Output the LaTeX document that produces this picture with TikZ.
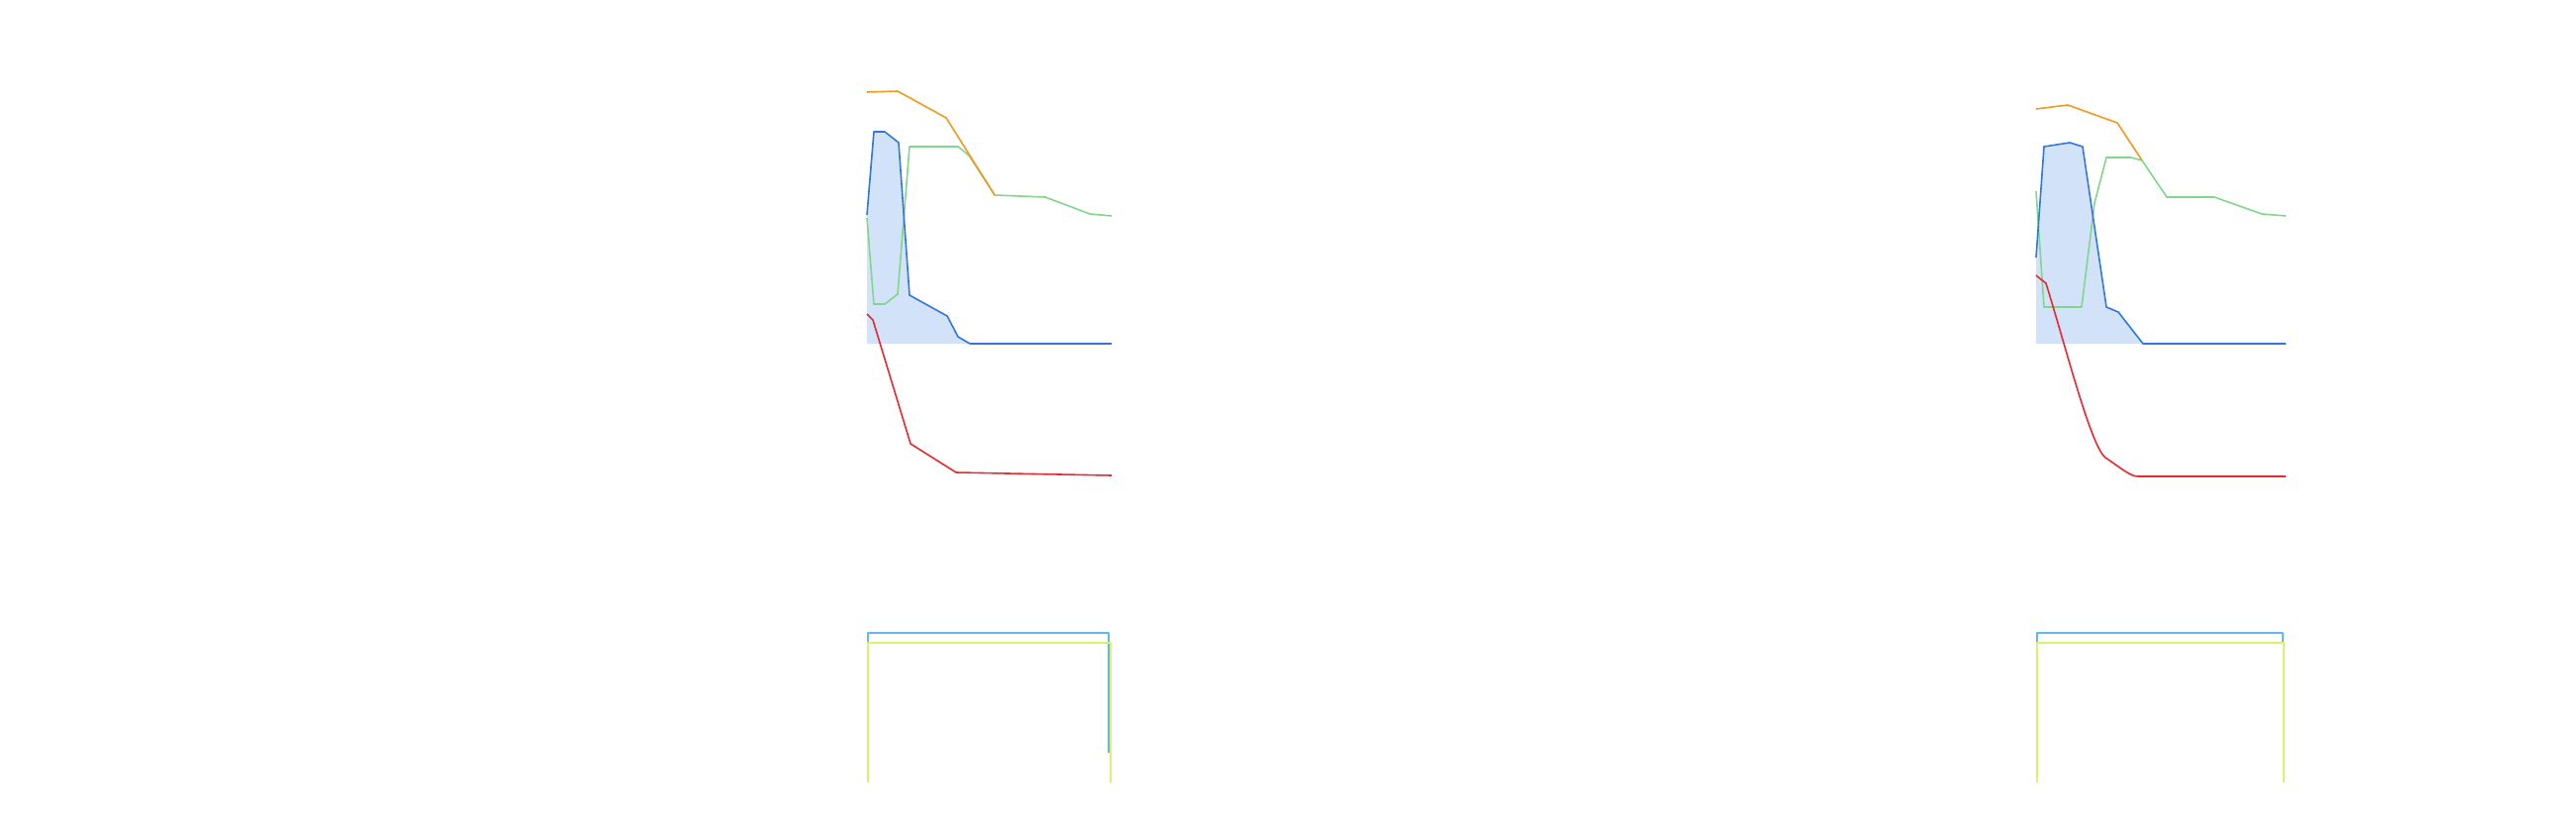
\documentclass[tikz,border=0pt]{standalone}
\begin{document}
\begin{tikzpicture}[x=1pt,y=-1pt,line join=round,
  ln/.style={line width=1.6pt},
  cor/.style={ln,draw={rgb,255:red,243;green,152;blue,32}},
  cgr/.style={ln,draw={rgb,255:red,130;green,214;blue,140}},
  cbl/.style={ln,draw={rgb,255:red,50;green,120;blue,220}},
  crd/.style={ln,draw={rgb,255:red,232;green,40;blue,50}},
  csk/.style={ln,draw={rgb,255:red,100;green,185;blue,235}},
  cye/.style={ln,draw={rgb,255:red,220;green,240;blue,110}},
  fl/.style={fill={rgb,255:red,210;green,226;blue,248}}]
\useasboundingbox (0,0) rectangle (2600,839);
% left plot
\fill[fl] (875,217)--(882,133)--(893,133)--(907,144)--(918,298)--(956,319)--(967,340)--(979,347)--(875,347)--cycle;
\draw[cgr] (875,220)--(882,307)--(893,307)--(906,297)--(918,148)--(967,148)--(978,157)--(1004,197)--(1055,199)--(1100,216)--(1122,218);
\draw[cor] (875,93)--(906,92)--(955,119)--(1004,197);
\draw[cbl] (875,217)--(882,133)--(893,133)--(907,144)--(918,298)--(956,319)--(967,340)--(979,347)--(1122,347);
\draw[crd] (875,317)--(881,323)--(919,448)--(965,477)--(1122,480);
% right plot
\fill[fl] (2055,260)--(2063,148)--(2089,144)--(2102,148)--(2126,310)--(2138,315)--(2163,347)--(2055,347)--cycle;
\draw[cgr] (2055,193)--(2063,310)--(2101,310)--(2114,205)--(2126,159)--(2151,159)--(2162,162)--(2187,199)--(2235,199)--(2283,216)--(2307,218);
\draw[cor] (2055,110)--(2087,106)--(2137,124)--(2162,162);
\draw[cbl] (2055,260)--(2063,148)--(2089,144)--(2102,148)--(2126,310)--(2138,315)--(2163,347)--(2307,347);
\draw[crd] (2055,278)--(2065,286) .. controls (2085,350) and (2110,450) .. (2125,462) .. controls (2140,472) and (2150,481) .. (2158,481)--(2307,481);
% bottom rectangles
\draw[csk] (876,649)--(876,639)--(1119,639)--(1119,760);
\draw[cye] (876,790)--(876,649)--(1121,649)--(1121,790);
\draw[csk] (2056,649)--(2056,639)--(2304,639)--(2304,648);
\draw[cye] (2056,790)--(2056,649)--(2305,649)--(2305,790);
\end{tikzpicture}
\end{document}
